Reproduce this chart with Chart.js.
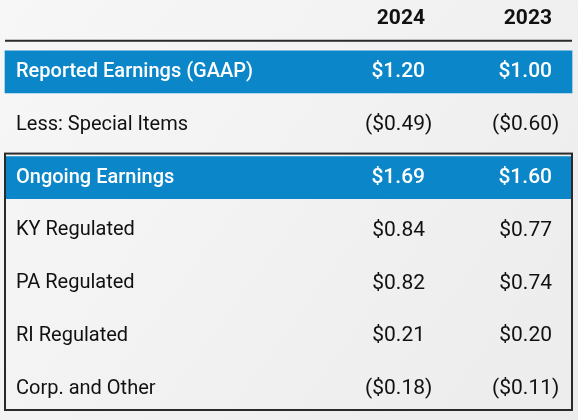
<!DOCTYPE html>
<html>
<head>
<meta charset="utf-8">
<script src="https://cdn.jsdelivr.net/npm/chart.js@4/dist/chart.umd.min.js"></script>
<style>
  html, body { margin: 0; padding: 0; background: #f1f1f1; }
  #wrap { width: 578px; height: 420px; }
</style>
</head>
<body>
<div id="wrap"><canvas id="earnings" width="578" height="420"></canvas></div>
<script>
var years = ["2024", "2023"];
var rowLabels = ["", "Reported Earnings (GAAP)", "Less: Special Items", "Ongoing Earnings",
  "KY Regulated", "PA Regulated", "RI Regulated", "Corp. and Other"];
var values2024 = [null, 1.20, -0.49, 1.69, 0.84, 0.82, 0.21, -0.18];
var values2023 = [null, 1.00, -0.60, 1.60, 0.77, 0.74, 0.20, -0.11];
var highlighted = ["Reported Earnings (GAAP)", "Ongoing Earnings"];

var blue = "#0b87c9";
var font = "Roboto";
var colRight = [425, 552];

function fmt(v) {
  var s = "$" + Math.abs(v).toFixed(2);
  return v < 0 ? "(" + s : s;
}

// band behind the highlighted rows
var bands = rowLabels.map(function (l) {
  return highlighted.indexOf(l) >= 0 ? [0, 1] : null;
});

var background = {
  id: "background",
  beforeDraw: function (chart) {
    var ctx = chart.ctx;
    var g = ctx.createLinearGradient(0, 0, chart.width, chart.height);
    g.addColorStop(0, "#f7f7f7");
    g.addColorStop(1, "#ececec");
    ctx.save();
    ctx.fillStyle = g;
    ctx.fillRect(0, 0, chart.width, chart.height);
    ctx.restore();
  }
};

var table = {
  id: "table",
  afterDatasetsDraw: function (chart) {
    var ctx = chart.ctx;
    var y = chart.scales.y;
    var x = chart.scales.x;
    var left = x.getPixelForValue(0), right = x.getPixelForValue(1);
    ctx.save();

    // rule under the header
    ctx.strokeStyle = "#2a2a2a";
    ctx.lineWidth = 2;
    var ly = y.getPixelForValue(1) - 31;
    ctx.beginPath();
    ctx.moveTo(left, ly);
    ctx.lineTo(right, ly);
    ctx.stroke();

    // box round the ongoing block
    var top = y.getPixelForValue(3) - 24;
    var bottom = y.getPixelForValue(rowLabels.length - 1) + 21;
    ctx.strokeRect(left, top, right - left, bottom - top);

    ctx.textBaseline = "middle";
    // header
    ctx.font = "bold 21px " + font;
    ctx.fillStyle = "#111";
    ctx.textAlign = "right";
    years.forEach(function (yr, k) {
      ctx.fillText(yr, colRight[k], y.getPixelForValue(0));
    });

    for (var i = 1; i < rowLabels.length; i++) {
      var py = y.getPixelForValue(i);
      var hi = highlighted.indexOf(rowLabels[i]) >= 0;
      var w = hi ? "500 " : "";
      ctx.fillStyle = hi ? "#ffffff" : "#111111";
      ctx.font = w + "20px " + font;
      ctx.textAlign = "left";
      ctx.fillText(rowLabels[i], left + 11, py);
      ctx.font = w + "21px " + font;
      [values2024[i], values2023[i]].forEach(function (v, k) {
        ctx.textAlign = "right";
        ctx.fillText(fmt(v), colRight[k], py);
        if (v < 0) {
          ctx.textAlign = "left";
          ctx.fillText(")", colRight[k], py);
        }
      });
    }
    ctx.restore();
  }
};

new Chart("earnings", {
  type: "bar",
  data: {
    labels: rowLabels,
    datasets: [{
      data: bands,
      backgroundColor: blue,
      barThickness: 42,
      clip: false
    }]
  },
  options: {
    indexAxis: "y",
    responsive: false,
    animation: false,
    layout: { padding: { left: 5, right: 6, top: 19, bottom: 31 } },
    plugins: { legend: { display: false }, tooltip: { enabled: false } },
    scales: {
      x: { type: "linear", min: 0, max: 1, display: false },
      y: { type: "category", offset: false, display: false }
    }
  },
  plugins: [background, table]
});
</script>
</body>
</html>
